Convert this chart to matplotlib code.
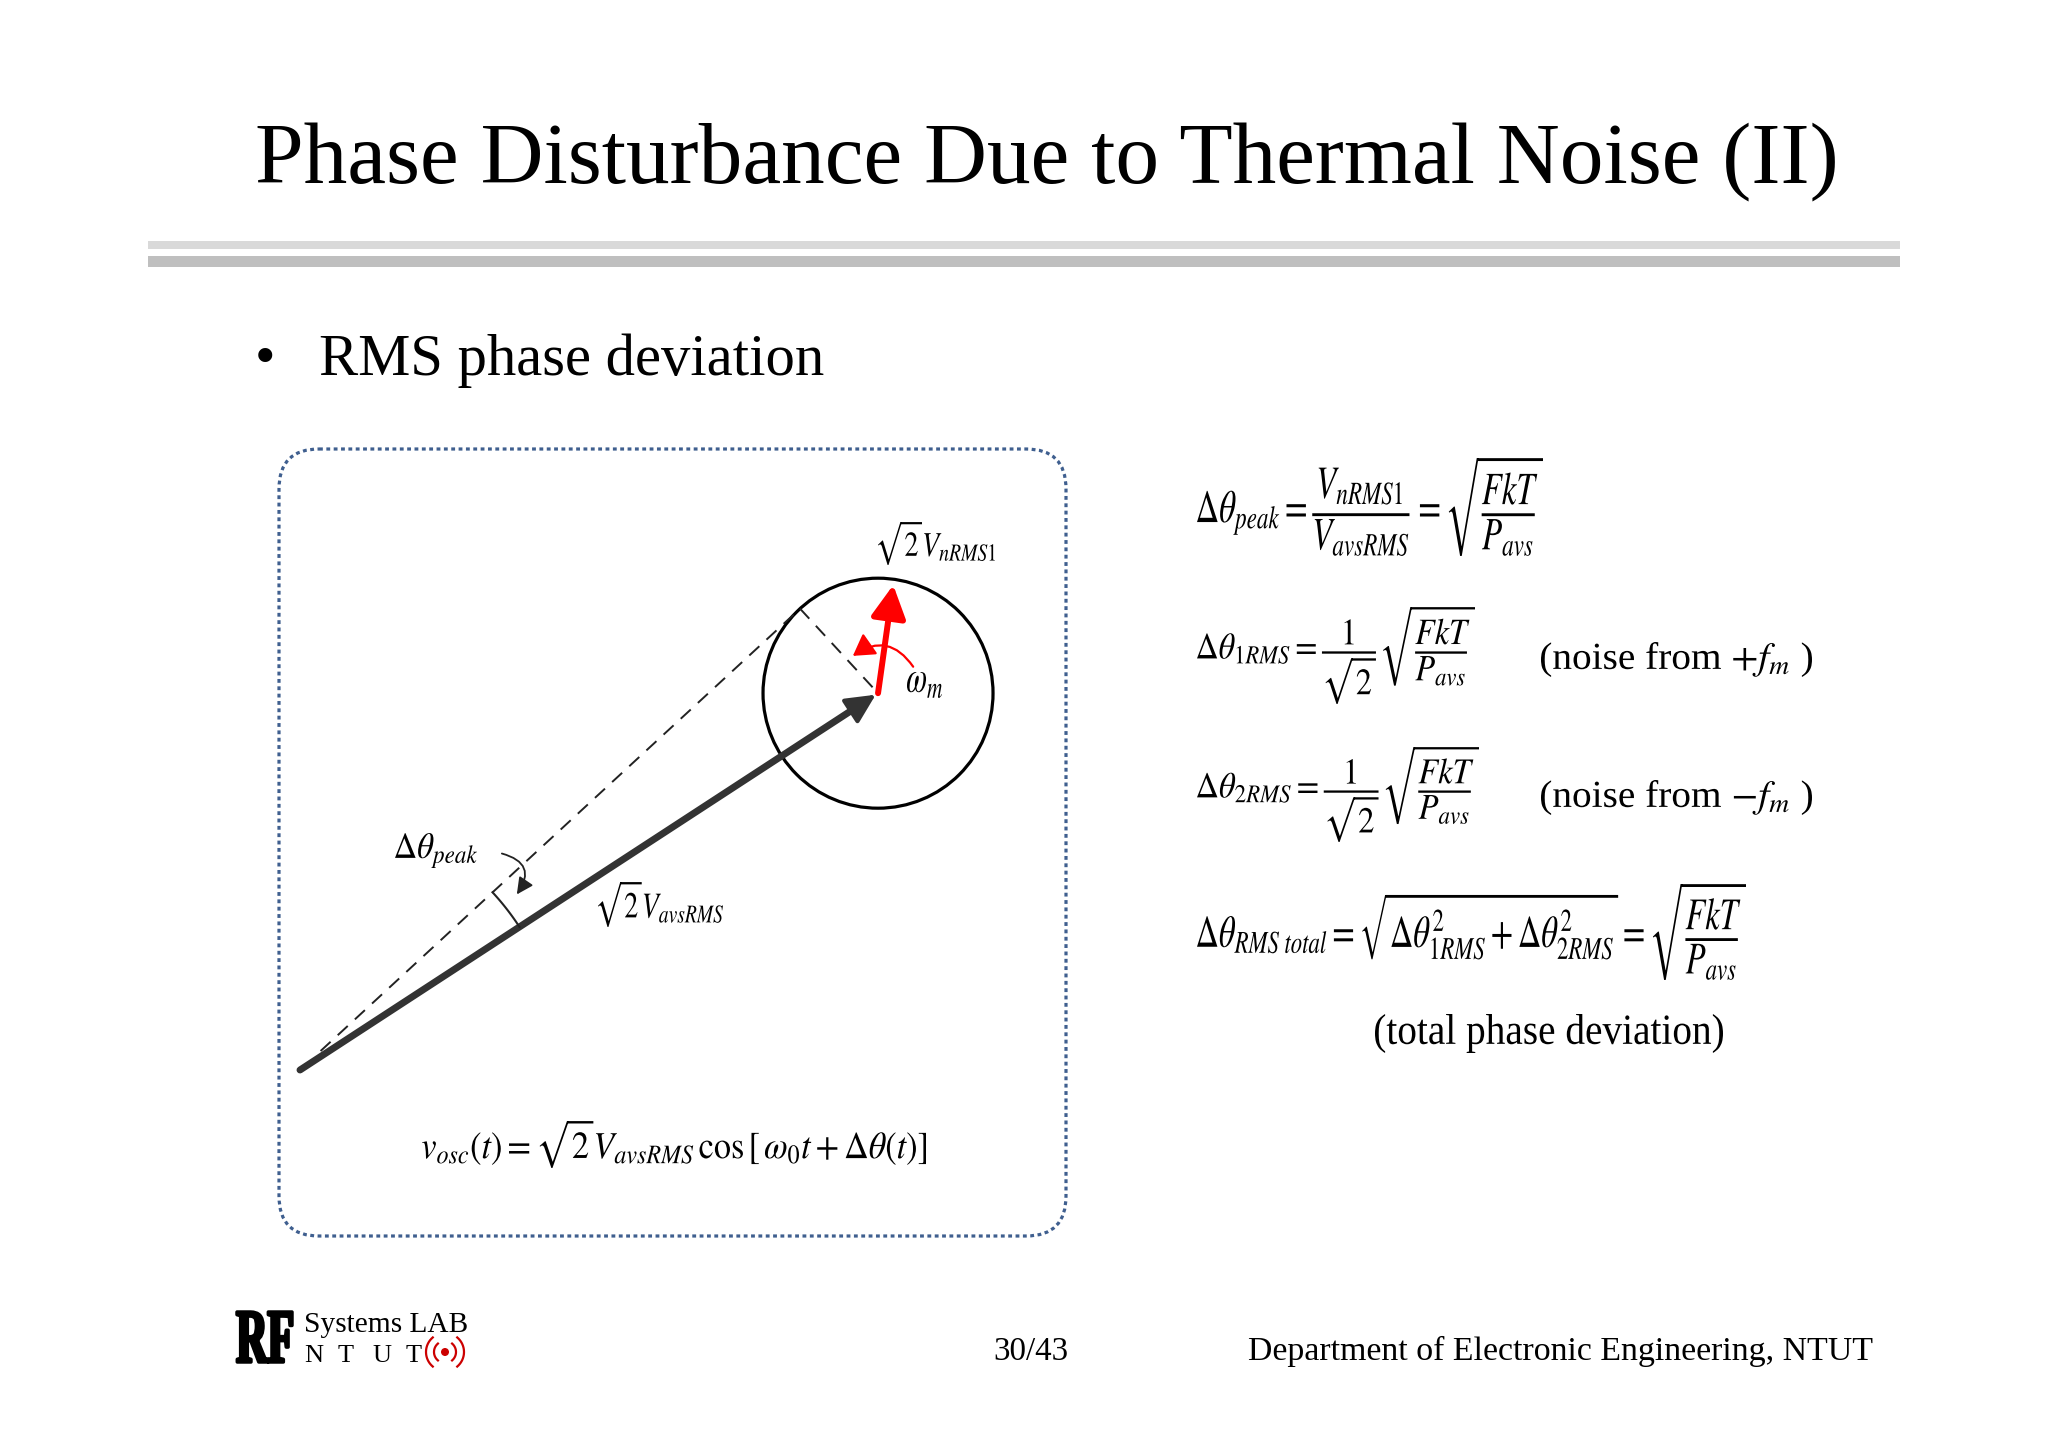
import numpy as np
import matplotlib
matplotlib.use('Agg')
import matplotlib.pyplot as plt
from matplotlib.patches import FancyBboxPatch, Circle, Rectangle, FancyArrowPatch
from matplotlib.textpath import TextPath
from matplotlib.font_manager import FontProperties
from matplotlib.transforms import Affine2D
from matplotlib import patheffects

plt.rcParams['font.family'] = 'Liberation Serif'
plt.rcParams['mathtext.fontset'] = 'stix'

# ---- slide text ----
title = 'Phase Disturbance Due to Thermal Noise (II)'
bullet = 'RMS phase deviation'
page = '30/43'
dept = 'Department of Electronic Engineering, NTUT'
lab_mark = 'RF'
lab_name = 'Systems LAB'
lab_letters = ['N', 'T', 'U', 'T']

# ---- phasor diagram (pixel units, angles in degrees) ----
carrier_origin = (300, 1070)
carrier_len = 690
carrier_angle = 33.1
noise_radius = 115
noise_angle = 82
noise_len = 112

carrier_label = r'$\sqrt{2}V_{avsRMS}$'
noise_label = r'$\sqrt{2}V_{nRMS\mathrm{1}}$'
omega_label = r'$\omega_m$'
dtheta_label = r'$\Delta\theta_{peak}$'
vosc_eq = r'$v_{osc}\left(t\right) = \sqrt{2}V_{avsRMS}\,\cos\left[\,\omega_0 t + \Delta\theta\left(t\right)\right]$'

# ---- equations on the right ----
equations = [
    r'$\Delta\theta_{peak} = \dfrac{V_{nRMS\mathrm{1}}}{V_{avsRMS}} = \sqrt{\dfrac{FkT}{P_{avs}}}$',
    r'$\Delta\theta_{1RMS} = \dfrac{1}{\sqrt{2}}\sqrt{\dfrac{FkT}{P_{avs}}}$',
    r'$\Delta\theta_{2RMS} = \dfrac{1}{\sqrt{2}}\sqrt{\dfrac{FkT}{P_{avs}}}$',
    r'$\Delta\theta_{RMS\ total} = \sqrt{\Delta\theta_{1RMS}^{2} + \Delta\theta_{2RMS}^{2}} = \sqrt{\dfrac{FkT}{P_{avs}}}$',
]
notes = ['(noise from $+f_m$ )', '(noise from $-f_m$ )']
total_note = '(total phase deviation)'


class Stretch(patheffects.AbstractPathEffect):
    # scales the drawn text vertically about an anchor point (display coords)
    def __init__(self, sy, anchor, stroke=0):
        super().__init__()
        self.sy = sy
        self.anchor = anchor
        self.stroke = stroke

    def draw_path(self, renderer, gc, tpath, affine, rgbFace=None):
        ax0, ay0 = self.anchor
        tr = affine + Affine2D().translate(-ax0, -ay0).scale(1, self.sy).translate(ax0, ay0)
        gc0 = renderer.new_gc()
        gc0.copy_properties(gc)
        if self.stroke:
            gc0.set_linewidth(self.stroke)
            gc0.set_foreground(rgbFace)
        renderer.draw_path(gc0, tpath, tr, rgbFace)
        gc0.restore()


def polar(c, r, ang):
    a = np.radians(ang)
    return (c[0] + r * np.cos(a), c[1] - r * np.sin(a))


fig = plt.figure(figsize=(20.48, 14.47), dpi=100)
ax = fig.add_axes([0, 0, 1, 1])
ax.set_xlim(0, 2048)
ax.set_ylim(1447, 0)
ax.axis('off')
fig.canvas.draw()
renderer = fig.canvas.get_renderer()
PX = 100 / 72.0


def fit(x0, x1, y, s, **kw):
    t = ax.text(x0, y, s, fontsize=40, ha='left', va='baseline', **kw)
    w = t.get_window_extent(renderer=renderer).width
    t.set_fontsize(40 * (x1 - x0) / w)
    return t


def put(s, x0, x1, top, bot, weight='normal', stroke=0, **kw):
    # fit ink box of s to [x0, x1] x [top, bot]
    tp = TextPath((0, 0), s, size=40, prop=FontProperties(family='Liberation Serif', weight=weight))
    ext = tp.get_extents()
    k = (x1 - x0) / (ext.width * PX)
    a = ext.y1 * k * PX
    d = -ext.y0 * k * PX
    sy = (bot - top) / (a + d)
    base = top + a * sy
    x = x0 - ext.x0 * k * PX
    t = ax.text(x, base, s, fontsize=40 * k, ha='left', va='baseline', weight=weight, **kw)
    t.set_path_effects([Stretch(sy, ax.transData.transform((x, base)), stroke)])
    return t


# title + header rules
fit(255, 1837, 183, title)
ax.add_patch(Rectangle((148, 241), 1752, 8, color='#d9d9d9', lw=0))
ax.add_patch(Rectangle((148, 256), 1752, 11, color='#bfbfbf', lw=0))

# bullet
bt = fit(319, 823, 375, bullet)
ax.text(265, 375, '\u2022', fontsize=bt.get_fontsize(), ha='center', va='baseline')

# dotted frame
ax.add_patch(FancyBboxPatch((279, 449), 787, 787, boxstyle='round,pad=0,rounding_size=40',
                            fill=False, ec='#3f5f8f', lw=2.3, ls=(0, (1.2, 1.1))))

# phasors
tip = polar(carrier_origin, carrier_len, carrier_angle)
ax.add_patch(Circle(tip, noise_radius, fill=False, ec='black', lw=2.3))

phi = np.degrees(np.arcsin(noise_radius / carrier_len))
tan_len = np.sqrt(carrier_len ** 2 - noise_radius ** 2)
tan_pt = polar(carrier_origin, tan_len, carrier_angle + phi)
d_start = polar(carrier_origin, 28, carrier_angle + phi)
ax.plot([d_start[0], tan_pt[0]], [d_start[1], tan_pt[1]], color='#222222', lw=1.4, dashes=(7, 5))
ax.plot([tan_pt[0], tip[0]], [tan_pt[1], tip[1]], color='#222222', lw=1.4, dashes=(7, 5))

shaft_end = polar(carrier_origin, carrier_len - 12, carrier_angle)
ax.plot([carrier_origin[0], shaft_end[0]], [carrier_origin[1], shaft_end[1]],
        color='#333333', lw=5, solid_capstyle='round')
ax.add_patch(FancyArrowPatch(polar(carrier_origin, carrier_len - 40, carrier_angle), tip,
                             arrowstyle='-|>,head_length=0.45,head_width=0.22', mutation_scale=40,
                             color='#333333', lw=3, shrinkA=0, shrinkB=2))

n_end = polar(tip, noise_len, noise_angle)
ax.add_patch(FancyArrowPatch(tip, n_end, arrowstyle='-|>,head_length=0.45,head_width=0.24',
                             mutation_scale=44, color='#ff0000', lw=4.3, shrinkA=0, shrinkB=2,
                             capstyle='round'))

# rotation arrow
ax.add_patch(FancyArrowPatch(polar(tip, 44, 37), polar(tip, 45, 124),
                             connectionstyle='arc3,rad=0.5', arrowstyle='-|>,head_length=0.5,head_width=0.3',
                             mutation_scale=26, color='#ff0000', lw=1.6, shrinkA=0, shrinkB=0))

# delta theta arc + arrow
angs = np.linspace(carrier_angle, carrier_angle + phi, 30)
arc = np.array([polar(carrier_origin, 262, a) for a in angs])
ax.plot(arc[:, 0], arc[:, 1], color='#222222', lw=1.5)
ax.add_patch(FancyArrowPatch(polar(carrier_origin, 296, 47), polar(carrier_origin, 279, 39),
                             connectionstyle='arc3,rad=-0.7', arrowstyle='-|>,head_length=0.5,head_width=0.25',
                             mutation_scale=20, color='#222222', lw=1.3, shrinkA=0, shrinkB=0))

# diagram labels
put(noise_label, 878, 995, 522, 565)
put(omega_label, 907, 942, 672, 698)
put(dtheta_label, 395, 477, 833, 868)
put(carrier_label, 598, 723, 882, 927)
put(vosc_eq, 422, 926, 1121, 1168)

# right-hand equations
eq_boxes = [(1197, 1543, 458, 556), (1197, 1475, 607, 704),
            (1197, 1479, 747, 842), (1197, 1746, 884, 980)]
for eq, (x0, x1, y0, y1) in zip(equations, eq_boxes):
    put(eq, x0, x1, y0, y1)
put(notes[0], 1541, 1812, 642, 677)
put(notes[1], 1541, 1812, 780, 815)
put(total_note, 1375, 1723, 1014, 1053)

# footer
fit(993, 1068, 1360, page)
fit(1248, 1872, 1360, dept)

# logo
put(lab_mark, 237, 292, 1312, 1362, weight='bold', stroke=2.5)
fit(304, 468, 1332, lab_name)
for i, ch in enumerate(lab_letters):
    ax.text(304 + 34 * i, 1362, ch, fontsize=19, ha='left', va='baseline')
icon_c = (445, 1352)
ax.add_patch(Circle(icon_c, 4, color='#cc0000', lw=0))
for r in [11, 19]:
    for a0 in [0, 180]:
        angs = np.linspace(a0 - 50, a0 + 50, 20)
        pts = np.array([polar(icon_c, r, a) for a in angs])
        ax.plot(pts[:, 0], pts[:, 1], color='#cc0000', lw=1.6)

fig.savefig('out.png', dpi=100, facecolor='white')
